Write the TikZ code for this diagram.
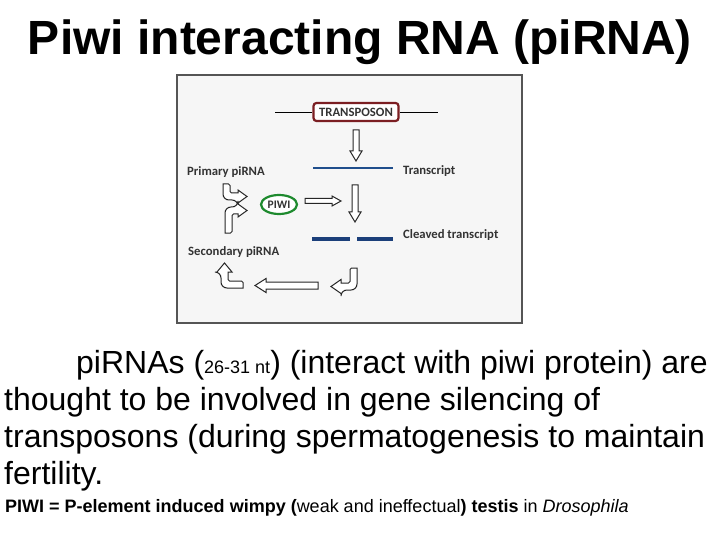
\documentclass[tikz,border=0pt]{standalone}
\usepackage{fontspec}
\setmainfont{Liberation Sans}
\newfontfamily\figfont{Carlito}
\usetikzlibrary{shapes.geometric}
\definecolor{labelgray}{HTML}{333333}
\definecolor{tred}{HTML}{7B1E22}
\definecolor{pgreen}{HTML}{1E8A2E}
\definecolor{tblue}{HTML}{1F4E8C}
\definecolor{cblue}{HTML}{1B3F7A}
\definecolor{boxbg}{HTML}{F6F6F6}
\definecolor{boxborder}{HTML}{555555}
\begin{document}
\begin{tikzpicture}[x=1pt,y=-1pt,
  txt/.style={inner sep=0pt, anchor=base west},
  lbl/.style={inner sep=0pt, anchor=west, text=labelgray, font=\figfont\bfseries\fontsize{12.7}{14}\selectfont},
  blockarrow/.style={draw=black!85, fill=white, line width=1pt, line join=miter}]
\useasboundingbox (0,0) rectangle (720,540);
% title
\node[inner sep=0pt, anchor=base, font=\bfseries\fontsize{48}{56}\selectfont] (title) at (360,55) {Piwi interacting RNA (piRNA)};
% figure frame
\draw[fill=boxbg, draw=boxborder, line width=1.8pt] (177,75) rectangle (522,323);
% transposon
\node[draw=tred, line width=2.2pt, rounded corners=3pt, fill=white, minimum width=85pt, minimum height=18pt, inner sep=0pt, text=labelgray, font=\figfont\bfseries\fontsize{12.7}{14}\selectfont] (tp) at (356,112) {TRANSPOSON};
\coordinate (lineL) at (275,112);
\coordinate (lineR) at (438,112);
\draw[line width=0.8pt] (lineL) -- (tp.west);
\draw[line width=0.8pt] (tp.east) -- (lineR);
% arrow down 1
\draw[blockarrow] (353,130) -- (353,151) -- (350,151) -- (356,161) -- (362,151) -- (359,151) -- (359,130) -- cycle;
% transcript
\coordinate (t1) at (313,168);
\coordinate (t2) at (393,168);
\draw[tblue, line width=2.5pt] (t1) -- (t2);
\node[lbl] (ltr) at (403,171) {Transcript};
\node[lbl] (lpp) at (187,172) {Primary piRNA};
% PIWI
\node[draw=pgreen, line width=2.2pt, ellipse, minimum width=36pt, minimum height=19pt, inner sep=0pt, fill=white, text=labelgray, font=\figfont\bfseries\fontsize{11.5}{12}\selectfont] (piwi) at (279,204.5) {PIWI};
% right arrow
\draw[blockarrow] (305,198.5) -- (332,198.5) -- (332,196) -- (341,201) -- (332,206) -- (332,203.5) -- (305,203.5) -- cycle;
% arrow down 2
\draw[blockarrow] (352,185) -- (352,212) -- (349,212) -- (355,222) -- (361,212) -- (358,212) -- (358,185) -- cycle;
% cleaved transcript
\coordinate (c1) at (312,239);
\coordinate (c2) at (350,239);
\coordinate (c3) at (357,239);
\coordinate (c4) at (393,239);
\draw[cblue, line width=3.5pt] (c1) -- (c2);
\draw[cblue, line width=3.5pt] (c3) -- (c4);
\node[lbl] (lct) at (403,235) {Cleaved transcript};
\node[lbl] (lsp) at (188,252) {Secondary piRNA};
% left merging arrows
\draw[blockarrow] (223,184) [rounded corners=6pt] -- (223,200) -- (238,200) [sharp corners] -- (238,203) -- (247,196.5) -- (238,190) -- (238,193) [rounded corners=1.5pt] -- (230,193) -- (230,184) [sharp corners] -- cycle;
\draw[blockarrow] (225,233) [rounded corners=6pt] -- (225,207) -- (238,207) [sharp corners] -- (238,204) -- (247,210.5) -- (238,217) -- (238,214) [rounded corners=1.5pt] -- (232,214) -- (232,233) [sharp corners] -- cycle;
% bottom right U-turn arrow
\draw[blockarrow] (357,268) [rounded corners=6pt] -- (357,290) -- (341,290) [sharp corners] -- (341,293.5) -- (331,286.5) -- (341,279.5) -- (341,283) [rounded corners=1.5pt] -- (350,283) -- (350,268) [sharp corners] -- cycle;
% bottom long left arrow
\draw[blockarrow] (318,282) -- (266,282) -- (266,278.5) -- (255,285.5) -- (266,292.5) -- (266,289) -- (318,289) -- cycle;
% bottom left up arrow
\draw[blockarrow] (243,288) [rounded corners=6pt] -- (221,288) -- (221,272) [sharp corners] -- (217,272) -- (224.5,263) -- (232,272) -- (228,272) [rounded corners=1.5pt] -- (228,281) -- (243,281) [sharp corners] -- cycle;
% body text
\node[txt, font=\fontsize{32}{37}\selectfont] (b1) at (76,373) {piRNAs ({\fontsize{18}{20}\selectfont 26-31 nt}) (interact with piwi protein) are};
\node[txt, font=\fontsize{32}{37}\selectfont] (b2) at (4,410) {thought to be involved in gene silencing of};
\node[txt, font=\fontsize{32}{37}\selectfont] (b3) at (4,447) {transposons (during spermatogenesis to maintain};
\node[txt, font=\fontsize{32}{37}\selectfont] (b4) at (4,484) {fertility.};
\node[txt, font=\fontsize{18}{20}\selectfont] (b5) at (5,512) {\textbf{PIWI = P-element induced wimpy (}weak and ineffectual\textbf{) testis} in \textit{Drosophila}};
\end{tikzpicture}
\end{document}
